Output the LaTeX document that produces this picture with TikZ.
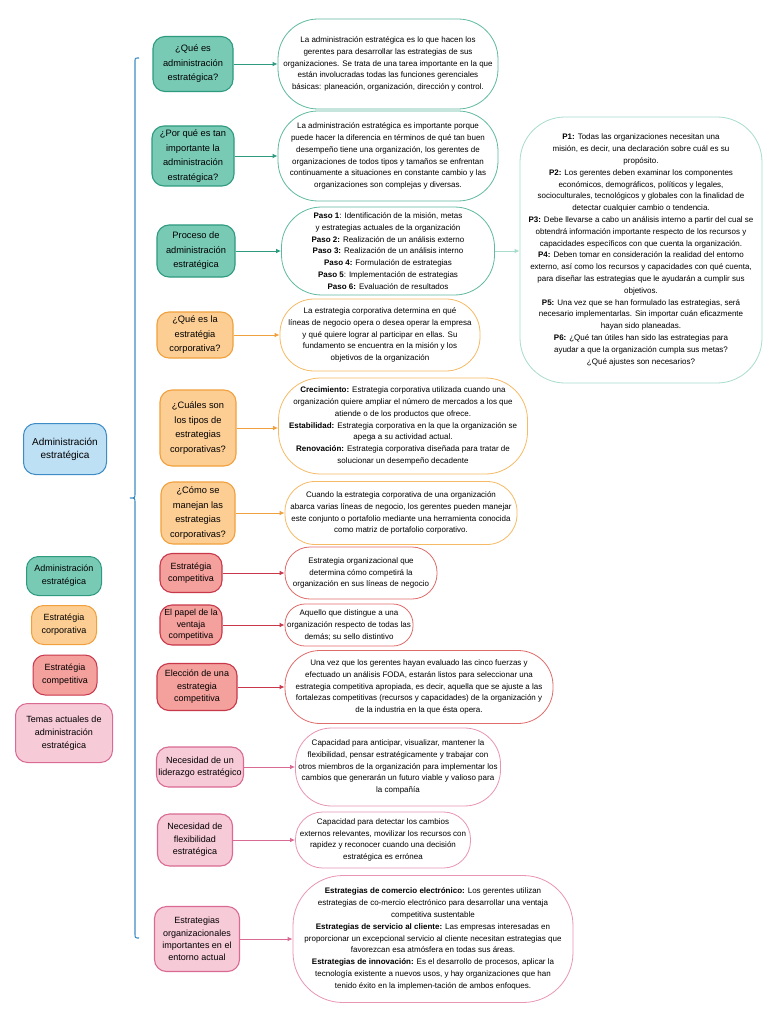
\documentclass[tikz,border=0pt]{standalone}
\usepackage{fontspec}
\setmainfont{Liberation Sans}
\usetikzlibrary{calc, arrows, arrows.meta}
\tikzset{>=latex}
\definecolor{tealfill}{RGB}{120,202,180}
\definecolor{tealline}{RGB}{46,154,128}
\definecolor{tealsoft}{RGB}{96,186,160}
\definecolor{tealpale}{RGB}{168,220,205}
\definecolor{orfill}{RGB}{253,206,148}
\definecolor{orline}{RGB}{240,160,60}
\definecolor{orsoft}{RGB}{246,186,100}
\definecolor{redfill}{RGB}{244,160,156}
\definecolor{redline}{RGB}{200,55,74}
\definecolor{redsoft}{RGB}{224,107,107}
\definecolor{pkfill}{RGB}{247,202,216}
\definecolor{pkline}{RGB}{217,106,147}
\definecolor{pksoft}{RGB}{232,149,181}
\definecolor{blfill}{RGB}{190,224,245}
\definecolor{blline}{RGB}{61,140,198}

\tikzset{
  qbox/.style={draw, line width=1.1pt, rounded corners=12pt, align=center,
    inner sep=2pt, font=\fontsize{9.3}{14.5}\selectfont},
  qsmall/.style={qbox, font=\fontsize{9}{12.4}\selectfont},
  abox/.style={draw, fill=white, line width=0.8pt, align=center,
    inner sep=1pt, font=\fontsize{8}{11.8}\selectfont},
  tq/.style={qbox, fill=tealfill, draw=tealline},
  oq/.style={qbox, fill=orfill, draw=orline},
  rq/.style={qsmall, fill=redfill, draw=redline},
  pq/.style={qsmall, fill=pkfill, draw=pkline},
  ta/.style={abox, draw=tealsoft},
  oa/.style={abox, draw=orsoft},
  ra/.style={abox, draw=redsoft},
  pa/.style={abox, draw=pksoft},
  conn/.style={-{Latex[length=5pt,width=4.5pt]}, line width=0.9pt},
  legend/.style={qbox, line width=1pt, font=\fontsize{9}{13}\selectfont}
}

\begin{document}
\begin{tikzpicture}[x=1pt, y=-1pt]
\fill[white] (0,0) rectangle (768,1024);
\useasboundingbox (0,0) rectangle (768,1024);

% left column
\node[legend, fill=blfill, draw=blline, minimum width=83, minimum height=51,
  font=\fontsize{10}{13}\selectfont] (main) at (65,449) {Administración\\estratégica};
\node[legend, fill=tealfill, draw=tealline, minimum width=75, minimum height=39] (lg1) at (64,576) {Administración\\estratégica};
\node[legend, fill=orfill, draw=orline, minimum width=65, minimum height=39] (lg2) at (64,625) {Estratégia\\corporativa};
\node[legend, fill=redfill, draw=redline, minimum width=64, minimum height=40] (lg3) at (65,675) {Estratégia\\competitiva};
\node[legend, fill=pkfill, draw=pkline, minimum width=97, minimum height=59] (lg4) at (64,733) {Temas actuales de\\administración\\estratégica};

% brace
\draw[blline, line width=1.1pt] (139,58) .. controls (135,58) .. (135,62) -- (135,493)
  .. controls (135,498) .. (130,498) .. controls (135,498) .. (135,503) -- (135,933)
  .. controls (135,938) .. (139,938);

% administracion estrategica
\node[tq, minimum width=80, minimum height=55] (q1) at (193,64) {¿Qué es\\administración\\estratégica?};
\node[ta, minimum width=220, minimum height=90, rounded corners=40pt] (a1) at (388,64)
  {La administración estratégica es lo que hacen los\\
   gerentes para desarrollar las estrategias de sus\\
   organizaciones. Se trata de una tarea importante en la que\\
   están involucradas todas las funciones gerenciales\\
   básicas: planeación, organización, dirección y control.};
\node[tq, minimum width=82, minimum height=60] (q2) at (193,156) {¿Por qué es tan\\importante la\\administración\\estratégica?};
\node[ta, minimum width=220, minimum height=90, rounded corners=40pt] (a2) at (388,156)
  {La administración estratégica es importante porque\\
   puede hacer la diferencia en términos de qué tan buen\\
   desempeño tiene una organización, los gerentes de\\
   organizaciones de todos tipos y tamaños se enfrentan\\
   continuamente a situaciones en constante cambio y las\\
   organizaciones son complejas y diversas.};
\node[tq, minimum width=78, minimum height=52] (q3) at (196,251) {Proceso de\\administración\\estratégica};
\node[ta, minimum width=213, minimum height=88, rounded corners=40pt] (a3) at (388,251)
  {\textbf{Paso 1}: Identificación de la misión, metas\\
   y estrategias actuales de la organización\\
   \textbf{Paso 2:} Realización de un análisis externo\\
   \textbf{Paso 3:} Realización de un análisis interno\\
   \textbf{Paso 4:} Formulación de estrategias\\
   \textbf{Paso 5}: Implementación de estrategias\\
   \textbf{Paso 6:} Evaluación de resultados};
\node[abox, draw=tealpale, minimum width=242, minimum height=266, rounded corners=45pt] (pasos) at (641,250)
  {\textbf{P1:} Todas las organizaciones necesitan una\\
   misión, es decir, una declaración sobre cuál es su\\
   propósito.\\
   \textbf{P2:} Los gerentes deben examinar los componentes\\
   económicos, demográficos, políticos y legales,\\
   socioculturales, tecnológicos y globales con la finalidad de\\
   detectar cualquier cambio o tendencia.\\
   \textbf{P3:} Debe llevarse a cabo un análisis interno a partir del cual se\\
   obtendrá información importante respecto de los recursos y\\
   capacidades específicos con que cuenta la organización.\\
   \textbf{P4:} Deben tomar en consideración la realidad del entorno\\
   externo, así como los recursos y capacidades con qué cuenta,\\
   para diseñar las estrategias que le ayudarán a cumplir sus\\
   objetivos.\\
   \textbf{P5:} Una vez que se han formulado las estrategias, será\\
   necesario implementarlas. Sin importar cuán eficazmente\\
   hayan sido planeadas.\\
   \textbf{P6:} ¿Qué tan útiles han sido las estrategias para\\
   ayudar a que la organización cumpla sus metas?\\
   ¿Qué ajustes son necesarios?};

% estrategia corporativa
\node[oq, minimum width=76, minimum height=46] (q4) at (195,335) {¿Qué es la\\estratégia\\corporativa?};
\node[oa, minimum width=200, minimum height=72, rounded corners=34pt] (a4) at (380,335)
  {La estrategia corporativa determina en qué\\
   líneas de negocio opera o desea operar la empresa\\
   y qué quiere lograr al participar en ellas. Su\\
   fundamento se encuentra en la misión y los\\
   objetivos de la organización};
\node[oq, minimum width=76, minimum height=76] (q5) at (198,428) {¿Cuáles son\\los tipos de\\estrategias\\corporativas?};
\node[oa, minimum width=249, minimum height=96, rounded corners=42pt] (a5) at (403,426)
  {\textbf{Crecimiento:} Estrategia corporativa utilizada cuando una\\
   organización quiere ampliar el número de mercados a los que\\
   atiende o de los productos que ofrece.\\
   \textbf{Estabilidad:} Estrategia corporativa en la que la organización se\\
   apega a su actividad actual.\\
   \textbf{Renovación:} Estrategia corporativa diseñada para tratar de\\
   solucionar un desempeño decadente};
\node[oq, minimum width=74, minimum height=62] (q6) at (198,513) {¿Cómo se\\manejan las\\estrategias\\corporativas?};
\node[oa, minimum width=232, minimum height=63, rounded corners=30pt] (a6) at (401,513)
  {Cuando la estrategia corporativa de una organización\\
   abarca varias líneas de negocio, los gerentes pueden manejar\\
   este conjunto o portafolio mediante una herramienta conocida\\
   como matriz de portafolio corporativo.};

% estrategia competitiva
\node[rq, minimum width=62, minimum height=39] (q7) at (191,573) {Estratégia\\competitiva};
\node[ra, minimum width=152, minimum height=52, rounded corners=25pt] (a7) at (361,573)
  {Estrategia organizacional que\\
   determina cómo competirá la\\
   organización en sus líneas de negocio};
\node[rq, minimum width=62, minimum height=40, font=\fontsize{8.8}{11.6}\selectfont] (q8) at (191,625) {El papel de la\\ventaja\\competitiva};
\node[ra, minimum width=128, minimum height=42, rounded corners=20pt] (a8) at (349,625)
  {Aquello que distingue a una\\
   organización respecto de todas las\\
   demás; su sello distintivo};
\node[rq, minimum width=80, minimum height=47] (q9) at (197,687) {Elección de una\\estrategia\\competitiva};
\node[ra, minimum width=268, minimum height=73, rounded corners=35pt] (a9) at (419,687)
  {Una vez que los gerentes hayan evaluado las cinco fuerzas y\\
   efectuado un análisis FODA, estarán listos para seleccionar una\\
   estrategia competitiva apropiada, es decir, aquella que se ajuste a las\\
   fortalezas competitivas (recursos y capacidades) de la organización y\\
   de la industria en la que ésta opera.};

% temas actuales
\node[pq, minimum width=86, minimum height=40] (q10) at (200,767) {Necesidad de un\\liderazgo estratégico};
\node[pa, minimum width=205, minimum height=78, rounded corners=36pt] (a10) at (398,767)
  {Capacidad para anticipar, visualizar, mantener la\\
   flexibilidad, pensar estratégicamente y trabajar con\\
   otros miembros de la organización para implementar los\\
   cambios que generarán un futuro viable y valioso para\\
   la compañía};
\node[pq, minimum width=75, minimum height=52] (q11) at (195,840) {Necesidad de\\flexibilidad\\estratégica};
\node[pa, minimum width=175, minimum height=56, rounded corners=27pt] (a11) at (383,840)
  {Capacidad para detectar los cambios\\
   externos relevantes, movilizar los recursos con\\
   rapidez y reconocer cuando una decisión\\
   estratégica es errónea};
\node[pq, minimum width=85, minimum height=65] (q12) at (197,939) {Estrategias\\organizacionales\\importantes en el\\entorno actual};
\node[pa, minimum width=280, minimum height=127, rounded corners=50pt] (a12) at (433,939)
  {\textbf{Estrategias de comercio electrónico:} Los gerentes utilizan\\
   estrategias de co-mercio electrónico para desarrollar una ventaja\\
   competitiva sustentable\\
   \textbf{Estrategias de servicio al cliente:} Las empresas interesadas en\\
   proporcionar un excepcional servicio al cliente necesitan estrategias que\\
   favorezcan esa atmósfera en todas sus áreas.\\
   \textbf{Estrategias de innovación:} Es el desarrollo de procesos, aplicar la\\
   tecnología existente a nuevos usos, y hay organizaciones que han\\
   tenido éxito en la implemen-tación de ambos enfoques.};

% connectors
\foreach \i in {1,2,3}
  \draw[conn, tealline] (q\i) -- (q\i -| a\i.west);
\foreach \i in {4,5,6}
  \draw[conn, orline] (q\i) -- (q\i -| a\i.west);
\foreach \i in {7,8,9}
  \draw[conn, redline] (q\i) -- (q\i -| a\i.west);
\foreach \i in {10,11,12}
  \draw[conn, pkline] (q\i) -- (q\i -| a\i.west);
\draw[conn, tealpale] (a3) -- (a3 -| pasos.west);
\end{tikzpicture}
\end{document}
